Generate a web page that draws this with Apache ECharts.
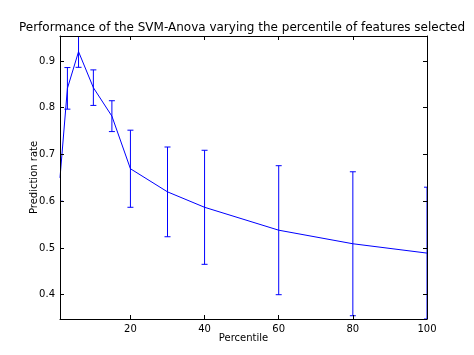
<!DOCTYPE html>
<html>
<head>
<meta charset="utf-8">
<script src="https://cdn.jsdelivr.net/npm/echarts@6/dist/echarts.min.js"></script>
<style>
html,body{margin:0;padding:0;background:#fff;}
#c{width:474px;height:355px;}
</style>
</head>
<body>
<div id="c"></div>
<script>
const percentiles = [1, 3, 6, 10, 15, 20, 30, 40, 60, 80, 100];
const scoreMeans = [0.65, 0.8415, 0.92, 0.843, 0.782, 0.6695, 0.62, 0.587, 0.538, 0.509, 0.489];
const scoreStds = [0.05, 0.0445, 0.0335, 0.038, 0.033, 0.0825, 0.096, 0.122, 0.138, 0.154, 0.141];
const xTicks = [20, 40, 60, 80, 100];
const yTicks = [0.4, 0.5, 0.6, 0.7, 0.8, 0.9];

const title = 'Performance of the SVM-Anova varying the percentile of features selected';
const xName = 'Percentile';
const yName = 'Prediction rate';

const lo = scoreMeans.map((m, i) => m - scoreStds[i]);
const hi = scoreMeans.map((m, i) => m + scoreStds[i]);
const yMin = Math.min(...lo);
const yMax = Math.max(...hi);
const xMin = Math.min(...percentiles);
const xMax = Math.max(...percentiles);

const lineData = percentiles.map((p, i) => [p, scoreMeans[i]]);
const errData = percentiles.map((p, i) => [p, lo[i], hi[i]]);

const font = 'DejaVu Sans';
const blue = '#0000ff';

const chart = echarts.init(document.getElementById('c'), null, {renderer: 'canvas'});

function mkX(pos, showLabel) {
  return {
    type: 'value', position: pos, min: xMin, max: xMax, z: 10,
    name: showLabel ? xName : '', nameLocation: 'middle', nameGap: 14, nameMoveOverlap: false,
    nameTextStyle: {fontFamily: font, fontSize: 10, color: '#000'},
    axisLine: {show: true, onZero: false, lineStyle: {color: '#000', width: 1}},
    axisTick: {show: true, inside: true, length: 4, lineStyle: {color: '#000'}, customValues: xTicks},
    axisLabel: {show: showLabel, customValues: xTicks, fontFamily: font, fontSize: 10, color: '#000', margin: 5},
    splitLine: {show: false}
  };
}
function mkY(pos, showLabel) {
  return {
    type: 'value', position: pos, min: yMin, max: yMax, z: 10,
    name: showLabel ? yName : '', nameLocation: 'middle', nameGap: 21, nameRotate: 90, nameMoveOverlap: false,
    nameTextStyle: {fontFamily: font, fontSize: 10, color: '#000'},
    axisLine: {show: true, onZero: false, lineStyle: {color: '#000', width: 1}},
    axisTick: {show: true, inside: true, length: 4, lineStyle: {color: '#000'}, customValues: yTicks},
    axisLabel: {show: showLabel, customValues: yTicks, fontFamily: font, fontSize: 10, color: '#000', margin: 5,
      formatter: v => v.toFixed(1)},
    splitLine: {show: false}
  };
}

chart.setOption({
  animation: false,
  backgroundColor: '#fff',
  title: {
    text: title, left: 237, textAlign: 'center', top: 17,
    textStyle: {fontFamily: font, fontSize: 12, fontWeight: 'normal', color: '#000'}
  },
  grid: {left: 60, right: 47, top: 36, bottom: 36, show: false},
  xAxis: [mkX('bottom', true), mkX('top', false)],
  yAxis: [mkY('left', true), mkY('right', false)],
  series: [
    {
      type: 'line', data: lineData, showSymbol: false, symbol: 'none',
      lineStyle: {color: blue, width: 1}, clip: true, z: 3
    },
    {
      type: 'custom', data: errData, clip: true, z: 2,
      encode: {x: 0, y: [1, 2]},
      renderItem: function (params, api) {
        const x = api.value(0);
        const a = api.coord([x, api.value(1)]);
        const b = api.coord([x, api.value(2)]);
        const c = 3;
        const style = {stroke: blue, lineWidth: 1, fill: null};
        return {
          type: 'group',
          children: [
            {type: 'line', shape: {x1: a[0], y1: a[1], x2: b[0], y2: b[1]}, style: style},
            {type: 'line', shape: {x1: a[0] - c, y1: a[1], x2: a[0] + c, y2: a[1]}, style: style},
            {type: 'line', shape: {x1: b[0] - c, y1: b[1], x2: b[0] + c, y2: b[1]}, style: style}
          ]
        };
      }
    }
  ]
});
</script>
</body>
</html>
